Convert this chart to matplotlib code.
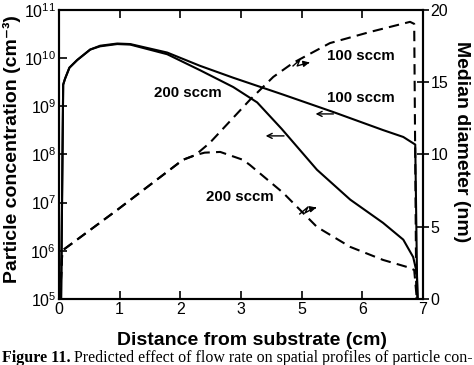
import matplotlib
matplotlib.use("Agg")
import matplotlib.pyplot as plt

plt.rcParams['font.family'] = ['Liberation Sans', 'DejaVu Sans']

# particle concentration (cm^-3), solid lines, left axis
x_conc_100 = [0.04, 0.08, 0.115, 0.2, 0.35, 0.60, 0.79, 1.12, 1.37, 2.08, 2.71, 3.35, 4.31, 5.27, 6.23, 6.62, 6.85, 6.89]
conc_100 = [1e5, 2.8e9, 3.7e9, 6.3e9, 9.1e9, 1.5e10, 1.8e10, 2.0e10, 1.95e10, 1.3e10, 6.9e9, 3.9e9, 1.74e9, 7.6e8, 3.2e8, 2.3e8, 1.6e8, 1e5]
x_conc_200 = [0.04, 0.08, 0.115, 0.2, 0.35, 0.60, 0.79, 1.12, 1.37, 2.08, 2.71, 3.35, 3.81, 4.28, 4.96, 5.60, 6.23, 6.62, 6.81, 6.88, 6.90]
conc_200 = [1e5, 2.8e9, 3.7e9, 6.3e9, 9.1e9, 1.5e10, 1.75e10, 1.95e10, 1.9e10, 1.2e10, 5.6e9, 2.5e9, 1.2e9, 3.4e8, 4.8e7, 1.15e7, 3.8e6, 1.7e6, 7.4e5, 3.5e5, 1e5]

# median diameter (nm), dashed lines, right axis
x_diam_100 = [0.02, 0.06, 0.08, 1.12, 2.38, 2.62, 2.90, 3.67, 4.12, 4.50, 5.21, 5.98, 6.75, 6.83, 6.87]
diam_100 = [0, 3.05, 3.39, 6.16, 9.62, 9.95, 10.8, 13.77, 15.36, 16.33, 17.7, 18.47, 19.17, 19.03, 0]
x_diam_200 = [0.02, 0.06, 0.08, 1.12, 2.38, 2.62, 2.80, 3.10, 3.54, 3.67, 4.31, 4.96, 5.60, 6.23, 6.75, 6.83, 6.88]
diam_200 = [0, 3.05, 3.39, 6.16, 9.62, 9.95, 10.12, 10.17, 9.62, 9.27, 7.34, 4.98, 3.6, 2.70, 2.15, 2.0, 0]

xtick_labels = ['0', '1', '2', '3', '5', '6', '7']

fig = plt.figure(figsize=(4.74, 3.65), dpi=100)
ax = fig.add_axes([0.1245, 0.181, 0.768, 0.792])
ax2 = ax.twinx()

ax.plot(x_conc_100, conc_100, color='black', lw=1.5)
ax.plot(x_conc_200, conc_200, color='black', lw=1.5)
ax2.plot(x_diam_100, diam_100, color='black', lw=1.5, dashes=(5, 3))
ax2.plot(x_diam_200, diam_200, color='black', lw=1.5, dashes=(5, 3))

ax.set_yscale('log')
ax.set_ylim(1e5, 1e11)
ax.set_xlim(0, 7)
ax2.set_ylim(0, 20)
ax2.set_yticks([0, 5, 10, 15, 20])
ax.set_xticks([i * 7 / 6 for i in range(7)])
ax.set_xticklabels(xtick_labels)
ax.minorticks_off()

ax.tick_params(axis='x', direction='in', length=6, width=1.2, top=True, labelsize=11.5, pad=2)
ax.tick_params(axis='y', direction='in', length=6, width=1.2, labelsize=11.5, pad=2)
ax2.tick_params(axis='y', direction='inout', length=9, width=1.2, labelsize=11.5, pad=1)
for a in (ax, ax2):
    for s in a.spines.values():
        s.set_linewidth(1.5)

ax.set_xlabel('Distance from substrate (cm)', fontsize=14, fontweight='bold')
ax.xaxis.set_label_coords(0.53, -0.114)
ax.set_ylabel('Particle concentration (cm\u207b\u00b3)', fontsize=14, fontweight='bold')
ax.yaxis.label.set_va('center')
ax.yaxis.set_label_coords(-0.128, 0.52)
ax2.set_ylabel('Median diameter (nm)', fontsize=14, fontweight='bold', rotation=270)
ax2.yaxis.label.set_va('center')
ax2.yaxis.set_label_coords(1.107, 0.543)

tkw = dict(fontsize=10.8, fontweight='bold', ha='center', va='center')
ax2.text(2.48, 14.26, '200 sccm', **tkw)
ax2.text(5.81, 16.82, '100 sccm', **tkw)
ax2.text(5.81, 13.91, '100 sccm', **tkw)
ax2.text(3.48, 7.06, '200 sccm', **tkw)

# arrows pointing to the left axis (solid curves)
akw = dict(arrowstyle='->', lw=1.0, color='black', mutation_scale=9)
ax2.annotate('', xy=(4.88, 12.80), xytext=(5.33, 12.80), arrowprops=akw)
ax2.annotate('', xy=(3.92, 11.28), xytext=(4.38, 11.28), arrowprops=akw)

# squiggle arrows pointing to the right axis (dashed curves)
hkw = dict(arrowstyle='-|>', lw=1.0, color='black', mutation_scale=9)
ax2.plot([4.50, 4.63, 4.58, 4.75], [16.12, 16.54, 16.12, 16.30], color='black', lw=1.0)
ax2.annotate('', xy=(4.87, 16.40), xytext=(4.74, 16.30), arrowprops=hkw)
ax2.plot([4.63, 4.79, 4.73, 4.88], [5.88, 6.37, 5.95, 6.25], color='black', lw=1.0)
ax2.annotate('', xy=(5.0, 6.37), xytext=(4.87, 6.25), arrowprops=hkw)

# caption: bold lead-in, then regular text placed right after it
cap = fig.text(0.004, 0.008, 'Figure 11.', family='Liberation Serif', fontweight='bold', fontsize=11.5, va='baseline')
fig.canvas.draw()
bb = cap.get_window_extent()
fig.text(bb.x1 / fig.bbox.width + 0.008, 0.008,
         'Predicted effect of flow rate on spatial profiles of particle con-',
         family='Liberation Serif', fontsize=11.5, va='baseline')

fig.savefig('out.png', dpi=100)
